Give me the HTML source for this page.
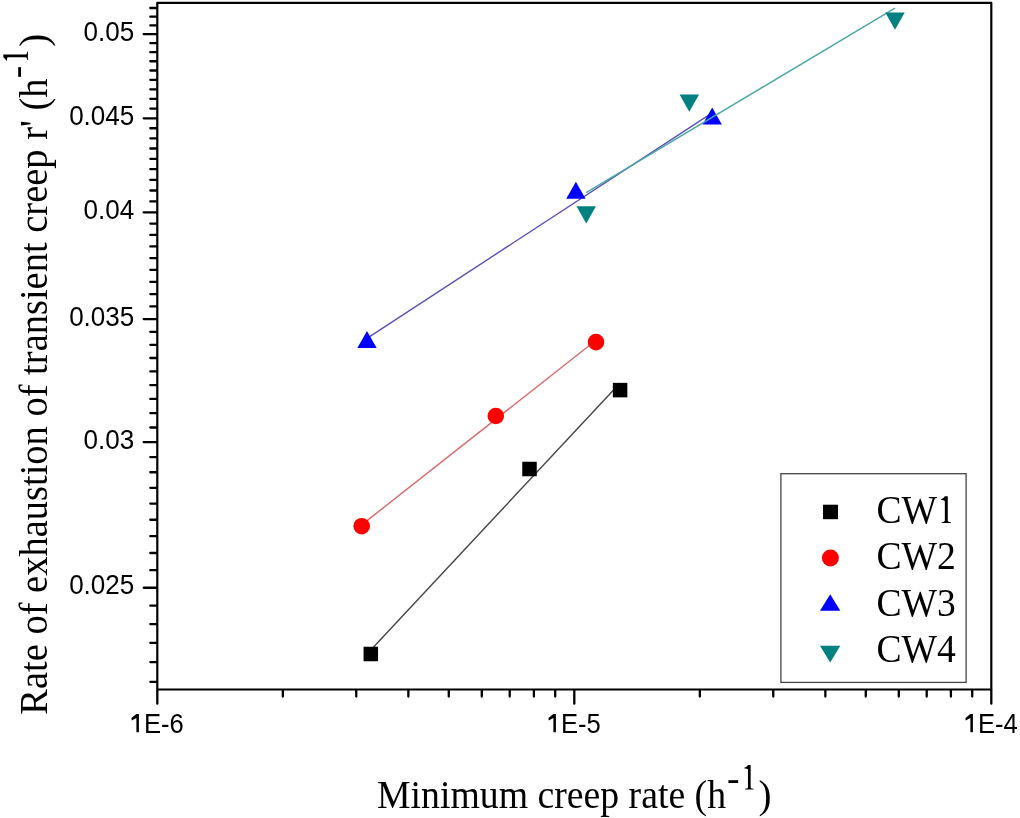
<!DOCTYPE html><html><head><meta charset="utf-8"><style>html,body{margin:0;padding:0;background:#fff;}svg{display:block;will-change:transform;filter:blur(0.4px)}text{font-kerning:none}</style></head><body>
<svg width="1020" height="818" viewBox="0 0 1020 818">
<rect width="1020" height="818" fill="#fff"/>
<path d="M150.30 681.79H156.70 M150.30 662.07H156.70 M150.30 642.83H156.70 M150.30 624.04H156.70 M150.30 605.68H156.70 M143.70 587.73H156.70 M150.30 570.18H156.70 M150.30 553.01H156.70 M150.30 536.19H156.70 M150.30 519.73H156.70 M150.30 503.60H156.70 M150.30 487.78H156.70 M150.30 472.27H156.70 M150.30 457.06H156.70 M143.70 442.14H156.70 M150.30 427.48H156.70 M150.30 413.09H156.70 M150.30 398.96H156.70 M150.30 385.07H156.70 M150.30 371.42H156.70 M150.30 358.00H156.70 M150.30 344.80H156.70 M150.30 331.81H156.70 M143.70 319.03H156.70 M150.30 306.46H156.70 M150.30 294.08H156.70 M150.30 281.88H156.70 M150.30 269.87H156.70 M150.30 258.04H156.70 M150.30 246.39H156.70 M150.30 234.89H156.70 M150.30 223.57H156.70 M143.70 212.40H156.70 M150.30 201.38H156.70 M150.30 190.52H156.70 M150.30 179.80H156.70 M150.30 169.22H156.70 M150.30 158.78H156.70 M150.30 148.48H156.70 M150.30 138.30H156.70 M150.30 128.26H156.70 M143.70 118.34H156.70 M150.30 108.54H156.70 M150.30 98.86H156.70 M150.30 89.30H156.70 M150.30 79.85H156.70 M150.30 70.51H156.70 M150.30 61.27H156.70 M150.30 52.15H156.70 M150.30 43.12H156.70 M143.70 34.20H156.70 M150.30 25.38H156.70 M150.30 16.65H156.70 M150.30 8.01H156.70 M157.30 690.1V703.70 M282.83 690.1V696.50 M356.26 690.1V696.50 M408.36 690.1V696.50 M448.77 690.1V696.50 M481.79 690.1V696.50 M509.71 690.1V696.50 M533.89 690.1V696.50 M555.22 690.1V696.50 M574.30 690.1V703.70 M699.83 690.1V696.50 M773.26 690.1V696.50 M825.36 690.1V696.50 M865.77 690.1V696.50 M898.79 690.1V696.50 M926.71 690.1V696.50 M950.89 690.1V696.50 M972.22 690.1V696.50 M991.30 690.1V703.70" stroke="#000" stroke-width="2.3" fill="none" stroke-linecap="round"/>
<path d="M157.3 689.5V2.9H991.3V689.5Z" stroke="#000" stroke-width="2.2" fill="none" stroke-linejoin="round"/>
<text transform="translate(134.3 40.80) scale(0.965 1)" text-anchor="end" font-family="Liberation Sans" font-size="27.0">0.05</text>
<text transform="translate(134.3 124.94) scale(0.965 1)" text-anchor="end" font-family="Liberation Sans" font-size="27.0">0.045</text>
<text transform="translate(134.3 219.00) scale(0.965 1)" text-anchor="end" font-family="Liberation Sans" font-size="27.0">0.04</text>
<text transform="translate(134.3 325.63) scale(0.965 1)" text-anchor="end" font-family="Liberation Sans" font-size="27.0">0.035</text>
<text transform="translate(134.3 448.74) scale(0.965 1)" text-anchor="end" font-family="Liberation Sans" font-size="27.0">0.03</text>
<text transform="translate(134.3 594.33) scale(0.965 1)" text-anchor="end" font-family="Liberation Sans" font-size="27.0">0.025</text>
<text transform="translate(143.90 732.7) scale(0.95 1)" font-family="Liberation Sans" font-size="27.0">E-6</text>
<path d="M138.90 714.10 L138.90 732.30 L136.40 732.30 L136.40 718.00 L131.70 720.60 L131.50 718.10 L136.30 714.10Z" fill="#000"/>
<text transform="translate(560.90 732.7) scale(0.95 1)" font-family="Liberation Sans" font-size="27.0">E-5</text>
<path d="M555.90 714.10 L555.90 732.30 L553.40 732.30 L553.40 718.00 L548.70 720.60 L548.50 718.10 L553.30 714.10Z" fill="#000"/>
<text transform="translate(977.90 732.7) scale(0.95 1)" font-family="Liberation Sans" font-size="27.0">E-4</text>
<path d="M972.90 714.10 L972.90 732.30 L970.40 732.30 L970.40 718.00 L965.70 720.60 L965.50 718.10 L970.30 714.10Z" fill="#000"/>
<line x1="370.80" y1="649.98" x2="620.10" y2="383.06" stroke="#444" stroke-width="1.4"/>
<rect x="363.55" y="646.75" width="14.5" height="14.5" fill="#000"/>
<rect x="522.25" y="461.75" width="14.5" height="14.5" fill="#000"/>
<rect x="612.85" y="382.85" width="14.5" height="14.5" fill="#000"/>
<line x1="361.70" y1="524.83" x2="596.00" y2="340.27" stroke="#d86a6a" stroke-width="1.4"/>
<circle cx="361.7" cy="526.2" r="8.3" fill="#f00"/>
<circle cx="495.8" cy="416" r="8.3" fill="#f00"/>
<circle cx="596" cy="342.1" r="8.3" fill="#f00"/>
<line x1="367.00" y1="338.32" x2="712.20" y2="112.89" stroke="#5850b8" stroke-width="1.4"/>
<path d="M367 331L376.70 348.00L357.30 348.00Z" fill="#00f"/>
<path d="M575.9 181.8L585.60 198.80L566.20 198.80Z" fill="#00f"/>
<path d="M712.2 107.5L721.90 124.50L702.50 124.50Z" fill="#00f"/>
<line x1="586.20" y1="192.64" x2="895.00" y2="8.08" stroke="#4aa6a6" stroke-width="1.4"/>
<path d="M576.50 206.2L595.90 206.2L586.2 223.50Z" fill="#008080"/>
<path d="M679.60 94.5L699.00 94.5L689.3 111.80Z" fill="#008080"/>
<path d="M885.30 12.4L904.70 12.4L895 29.70Z" fill="#008080"/>
<rect x="780.9" y="473.7" width="185.2" height="208.7" fill="none" stroke="#444" stroke-width="1.3"/>
<rect x="823" y="504.7" width="15" height="14.5" fill="#000"/>
<circle cx="830.4" cy="558" r="8.5" fill="#f00"/>
<path d="M830.2 594.2L840.3 610.8L820 610.8Z" fill="#00f"/>
<path d="M820 645.8L840.3 645.8L830.2 662.5Z" fill="#008080"/>
<text transform="translate(876.5 523.2) scale(0.941 1)" font-family="Liberation Serif" font-size="40">CW</text>
<path d="M944.84 496.30 L947.76 496.30 L947.76 520.68 Q947.81 521.99 950.93 522.14 L950.93 522.90 L941.67 522.90 L941.67 522.14 Q944.79 521.99 944.84 520.68 L944.84 501.14 C943.68 500.33 942.27 499.83 941.06 500.23 L940.91 499.42 C942.67 498.72 944.08 497.71 944.84 496.30 Z" fill="#000" />
<text transform="translate(876.5 568.7) scale(0.941 1)" font-family="Liberation Serif" font-size="40">CW2</text>
<text transform="translate(876.5 615.8) scale(0.941 1)" font-family="Liberation Serif" font-size="40">CW3</text>
<text transform="translate(876.5 662.3) scale(0.941 1)" font-family="Liberation Serif" font-size="40">CW4</text>
<text transform="translate(377.0 807.6) scale(0.968 1)" font-family="Liberation Serif" font-size="39">Minimum creep rate (h</text>
<text x="727.0" y="790.5" font-family="Liberation Serif" font-size="37.5">-</text>
<path d="M747.95 764.90 L750.65 764.90 L750.65 787.45 Q750.70 788.66 753.59 788.80 L753.59 789.50 L745.01 789.50 L745.01 788.80 Q747.90 788.66 747.95 787.45 L747.95 769.37 C746.88 768.63 745.57 768.16 744.45 768.53 L744.31 767.79 C745.95 767.14 747.25 766.20 747.95 764.90 Z" fill="#000" />
<text x="758.5" y="807.6" font-family="Liberation Serif" font-size="39">)</text>
<g transform="translate(46.7 0) rotate(-90)">
<text transform="translate(-714.7 0) scale(0.987 1)" font-family="Liberation Serif" font-size="39">Rate of exhaustion of transient creep r' (h</text>
<text x="-78.2" y="-17.60" font-family="Liberation Serif" font-size="37.5">-</text>
</g>
<path d="M-1.35 -24.60 L1.35 -24.60 L1.35 -2.05 Q1.40 -0.84 4.29 -0.70 L4.29 0.00 L-4.29 0.00 L-4.29 -0.70 Q-1.40 -0.84 -1.35 -2.05 L-1.35 -20.13 C-2.42 -20.87 -3.73 -21.34 -4.85 -20.97 L-4.99 -21.71 C-3.35 -22.36 -2.05 -23.30 -1.35 -24.60 Z" fill="#000" transform="translate(27.9 55.8) rotate(-90)"/>
<g transform="translate(46.7 0) rotate(-90)">
<text x="-46.7" y="0" font-family="Liberation Serif" font-size="39">)</text>
</g>
</svg></body></html>
